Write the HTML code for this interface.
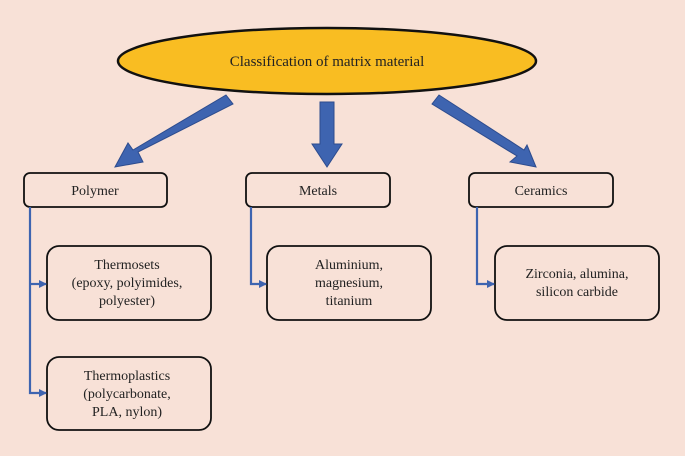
<!DOCTYPE html>
<html><head><style>
body{margin:0;background:#f8e1d7;}
svg{display:block}
text{font-family:"Liberation Serif",serif;font-size:14px;fill:#222;text-anchor:middle}
</style></head><body>
<svg width="685" height="456" viewBox="0 0 685 456">
<rect width="685" height="456" fill="#f8e1d7"/>
<defs>
<marker id="a" markerWidth="8" markerHeight="8" refX="7" refY="4" orient="auto" markerUnits="userSpaceOnUse"><path d="M0,0L8,4L0,8z" fill="#3e64b0"/></marker>
</defs>
<ellipse cx="327" cy="61" rx="209" ry="33" fill="#f9bd22" stroke="#111" stroke-width="2.5"/>
<text x="327" y="66" style="font-size:15px">Classification of matrix material</text>
<g fill="#3e64b0" stroke="#2d4c8e" stroke-width="1">
<path d="M226,95 L233,104 L138,152 L143,162 L115,167 L128,143 L133,150 Z"/>
<path d="M320,102 L334,102 L334,144 L342,144 L327,167 L312,144 L320,144 Z"/>
<path d="M439,95 L432,104 L517,156 L510,162 L536,167 L527,145 L524,150 Z"/>
</g>
<g fill="none" stroke="#111" stroke-width="1.8">
<rect x="24" y="173" width="143" height="34" rx="6"/>
<rect x="246" y="173" width="144" height="34" rx="6"/>
<rect x="469" y="173" width="144" height="34" rx="6"/>
<rect x="47" y="246" width="164" height="74" rx="12"/>
<rect x="47" y="357" width="164" height="73" rx="12"/>
<rect x="267" y="246" width="164" height="74" rx="12"/>
<rect x="495" y="246" width="164" height="74" rx="12"/>
</g>
<g fill="none" stroke="#3e64b0" stroke-width="2.2">
<path d="M30,207 V393 H46" marker-end="url(#a)"/>
<path d="M30,284 H46" marker-end="url(#a)"/>
<path d="M251,207 V284 H266" marker-end="url(#a)"/>
<path d="M477,207 V284 H494" marker-end="url(#a)"/>
</g>
<text x="95" y="195">Polymer</text>
<text x="318" y="195">Metals</text>
<text x="541" y="195">Ceramics</text>
<text x="127" y="269">Thermosets</text>
<text x="127" y="287">(epoxy, polyimides,</text>
<text x="127" y="305">polyester)</text>
<text x="127" y="380">Thermoplastics</text>
<text x="127" y="398">(polycarbonate,</text>
<text x="127" y="416">PLA, nylon)</text>
<text x="349" y="269">Aluminium,</text>
<text x="349" y="287">magnesium,</text>
<text x="349" y="305">titanium</text>
<text x="577" y="278">Zirconia, alumina,</text>
<text x="577" y="296">silicon carbide</text>
</svg>
</body></html>
